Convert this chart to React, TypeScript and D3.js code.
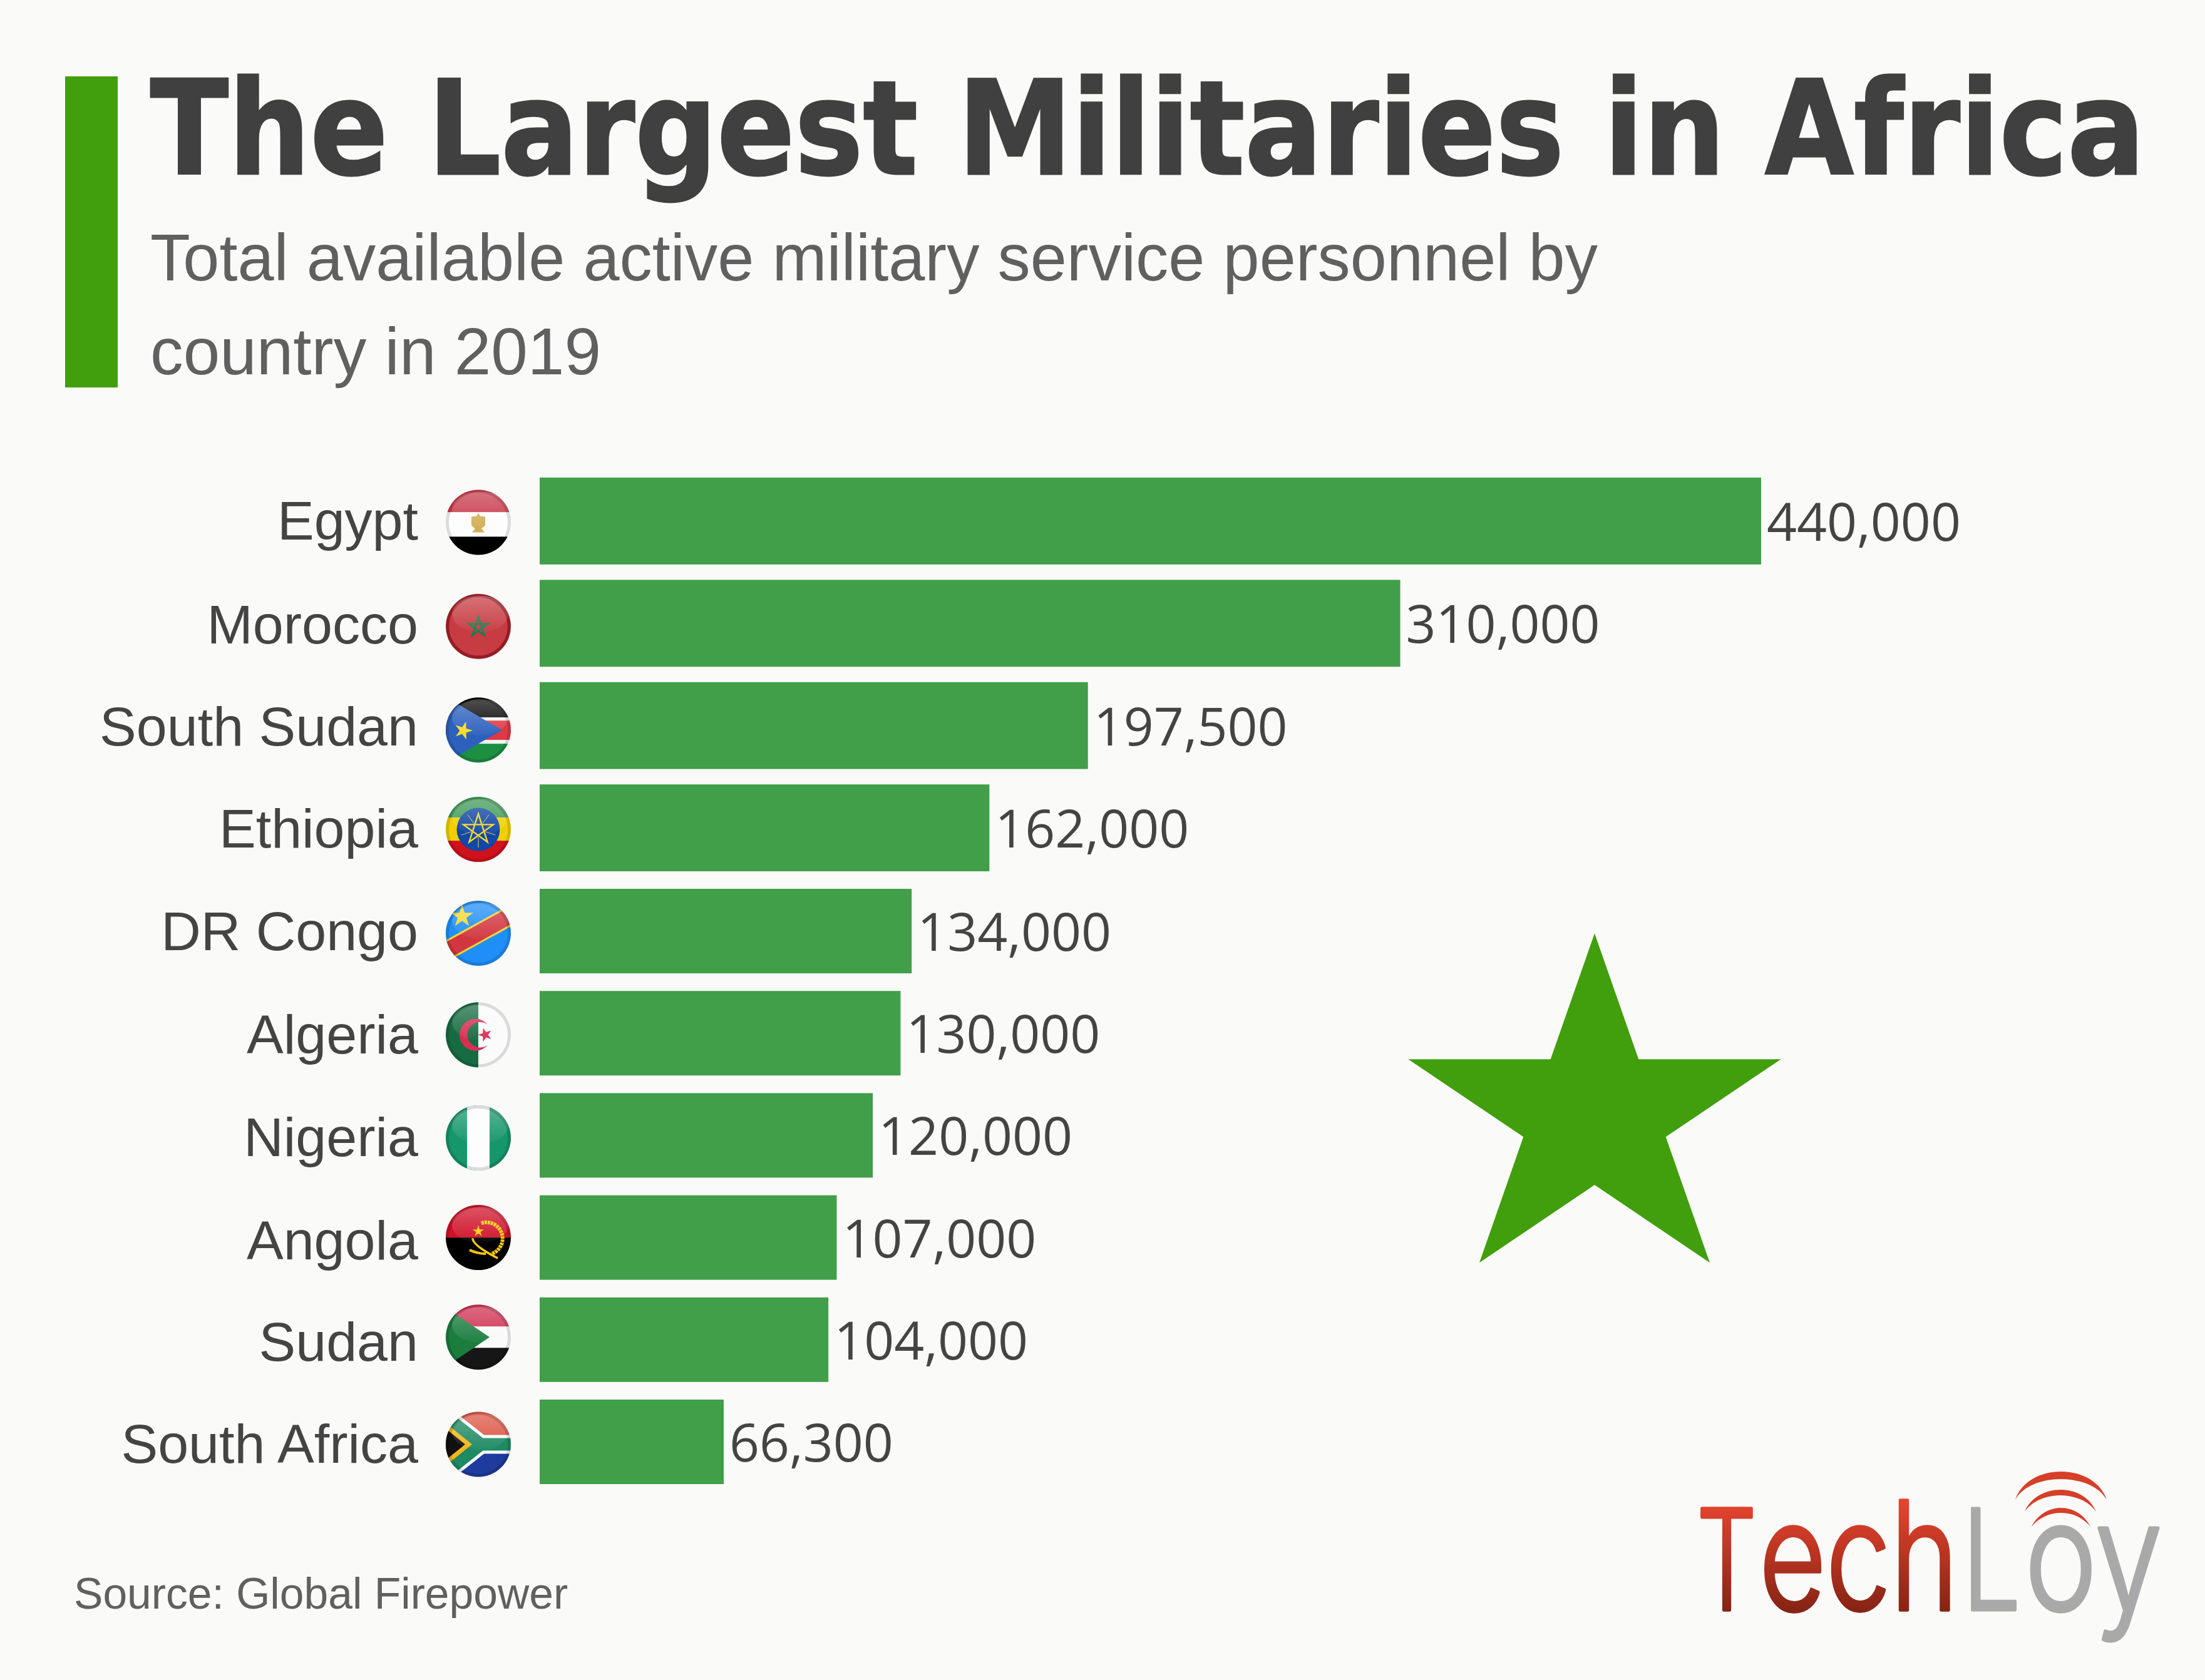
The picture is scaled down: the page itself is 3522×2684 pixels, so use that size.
import React from "react";
import * as d3 from "d3";

// ---------- data ----------
const countries = ["Egypt","Morocco","South Sudan","Ethiopia","DR Congo","Algeria","Nigeria","Angola","Sudan","South Africa"];
const personnel = [440000,310000,197500,162000,134000,130000,120000,107000,104000,66300];
const titleText = "The Largest Militaries in Africa";
const subtitleLines = ["Total available active military service personnel by","country in 2019"];
const sourceText = "Source: Global Firepower";

// ---------- layout ----------
const W = 3522, H = 2684;
const BG = "#fafaf8", BAR = "#409f48", ACCENT = "#419e0c";
const HELV = "'Liberation Sans', Arial, sans-serif";
const x = d3.scaleLinear().domain([0, 440000]).range([862, 2813]);
const yTop = d3.scaleBand<string>().domain(countries.slice(0, 4)).range([763, 1392]).paddingInner(0.1507);
const yBot = d3.scaleBand<string>().domain(countries.slice(4)).range([1420, 2371]).paddingInner(0.1728);
const yOf = (c: string) => (yTop(c) !== undefined ? yTop(c)! : yBot(c)!);
const hOf = (c: string) => (yTop(c) !== undefined ? yTop.bandwidth() : yBot.bandwidth());
const flagNudge = [2, 5, 7, 2.5, 3.5, 2.5, 4, 0, -4, 4];
const labelNudge = [30, 32, 31.5, 31.5, 31, 32.5, 33.5, 34.5, 34, 33.5];
const subtitleWidths = [2312, 720];
const fmt = d3.format(",");

const starPath = (rx: number, ry: number = rx, inner = 0.382, cx = 0, cy = 0, rot = 0) => {
  const pts = d3.range(10).map((i) => {
    const a = -Math.PI / 2 + rot + (i * Math.PI) / 5;
    const k = i % 2 ? inner : 1;
    return [cx + rx * k * Math.cos(a), cy + ry * k * Math.sin(a)] as [number, number];
  });
  return d3.line()(pts)! + "Z";
};
const pentagram = (R: number, cx = 0, cy = 0) => {
  const pts = [0, 2, 4, 1, 3].map((i) => {
    const a = -Math.PI / 2 + (i * 2 * Math.PI) / 5;
    return [cx + R * Math.cos(a), cy + R * Math.sin(a)] as [number, number];
  });
  return d3.line()(pts)! + "Z";
};
const band = (y0: number, y1: number, fill: string) => <rect x={-60} y={y0} width={120} height={y1 - y0} fill={fill} />;

const flagArt: Record<string, () => React.ReactNode> = {
  Egypt: () => (<g>
    {band(-60, -16, "#c93a4b")}{band(-16, 23, "#fdfdfd")}{band(23, 60, "#000")}
    <path d="M0-15 L3-10 L11-9 L11 5 L5 10 L10 16 L-10 16 L-5 10 L-11 5 L-11-9 L-3-10Z" fill="#d3ae58" />
  </g>),
  Morocco: () => (<g>
    <rect x={-60} y={-60} width={120} height={120} fill="#c73c42" />
    <path d={pentagram(16, 0, 1)} fill="none" stroke="#1f7a4c" strokeWidth={3} />
    <circle r={49} fill="none" stroke="#a8232b" strokeWidth={5} />
  </g>),
  "South Sudan": () => (<g>
    {band(-60, -20, "#0a0a0a")}{band(-20, -15, "#f4f4f4")}{band(-15, 16, "#de3a44")}{band(16, 22, "#f4f4f4")}{band(22, 60, "#1c8f43")}
    <path d="M38 0 L-65 -60 L-65 60Z" fill="#2d60bd" />
    <path d={starPath(15, 15, 0.382, -24, 1, 0.3)} fill="#fbdc25" />
  </g>),
  Ethiopia: () => (<g>
    {band(-60, -19, "#3f9a57")}{band(-19, 18, "#f2cf02")}{band(18, 60, "#d0121c")}
    <circle r={34.5} fill="#1147a6" />
    <path d={pentagram(25)} fill="none" stroke="#f5d52a" strokeWidth={2.4} />
    {d3.range(5).map((i) => { const a = Math.PI / 2 + (i * 2 * Math.PI) / 5; return <line key={i} x1={12 * Math.cos(a)} y1={12 * Math.sin(a)} x2={29 * Math.cos(a)} y2={29 * Math.sin(a)} stroke="#e8cf40" strokeWidth={1} />; })}
  </g>),
  "DR Congo": () => (<g>
    <rect x={-60} y={-60} width={120} height={120} fill="#1f8ef7" />
    <g transform="rotate(-29)">
      <rect x={-80} y={-15.5} width={160} height={31} fill="#f7d32e" />
      <rect x={-80} y={-12.5} width={160} height={25} fill="#d23640" />
    </g>
    <path d={starPath(19, 19, 0.382, -26, -27)} fill="#f7d92e" />
  </g>),
  Algeria: () => (<g>
    <rect x={-60} y={-60} width={60} height={120} fill="#176b42" />
    <rect x={0} y={-60} width={60} height={120} fill="#fbfbfb" />
    <path d="M15-16.4 A25.5 25.5 0 1 0 15 16.4 A20.3 20.3 0 1 1 15-16.4Z" fill="#d62f54" />
    <path d={starPath(11.5, 11.5, 0.4, 11, 0, -Math.PI / 2)} fill="#d62f54" />
  </g>),
  Nigeria: () => (<g>
    <rect x={-60} y={-60} width={120} height={120} fill="#16966b" />
    <rect x={-18} y={-60} width={36} height={120} fill="#fdfdfd" />
  </g>),
  Angola: () => (<g>
    {band(-60, 0, "#cf1027")}{band(0, 60, "#000")}
    <path d="M5 -23 A24 24 0 0 1 21 26" fill="none" stroke="#f9c908" strokeWidth={6} strokeDasharray="4 1" />
    <path d={starPath(9.5, 9.5, 0.382, 0, -10)} fill="#f9c908" />
    <path d="M-9 1 Q-10 12 31 33" fill="none" stroke="#f9c908" strokeWidth={3.5} />
    <path d="M-14 20 Q0 26 12 26" fill="none" stroke="#f9c908" strokeWidth={4} />
  </g>),
  Sudan: () => (<g>
    {band(-60, -17, "#cf2f50")}{band(-17, 17, "#fafafa")}{band(17, 60, "#161616")}
    <path d="M18 0 L-62 -54 L-62 54Z" fill="#1a7d3e" />
  </g>),
  "South Africa": () => (<g>
    {band(-60, 0, "#dc5342")}{band(0, 60, "#1e3b9e")}
    <path d="M-62 -52 L4 0 L62 0 M-62 52 L4 0" fill="none" stroke="#fdfdfd" strokeWidth={30} />
    <path d="M-62 -52 L4 0 L62 0 M-62 52 L4 0" fill="none" stroke="#1f8a63" strokeWidth={20} />
    <path d="M-10 0 L-62 -42 L-62 42Z" fill="#f6b61c" />
    <path d="M-21 0 L-62 -33 L-62 33Z" fill="#111" />
  </g>),
};

const Flag = ({ name, cx, cy }: { name: string; cx: number; cy: number }) => (
  <g transform={`translate(${cx},${cy})`}>
    <g clipPath="url(#flagClip)">
      {flagArt[name]()}
      <ellipse cx={3} cy={-20} rx={45} ry={29} fill="url(#gloss)" />
    </g>
    <circle r={49.5} fill="none" stroke="#000" strokeOpacity={0.13} strokeWidth={5} />
  </g>
);

const arcs = [
  { tipL: 3219, tipR: 3365, tipY: 2396, top: 2351, under: 2363 },
  { tipL: 3234, tipR: 3348, tipY: 2415, top: 2380, under: 2389 },
  { tipL: 3245, tipR: 3339, tipY: 2439, top: 2409, under: 2417 },
];
const arcPath = (a: typeof arcs[number]) => {
  const p = d3.path();
  const ctrl = (v: number) => v - (a.tipY - v) / 3;
  p.moveTo(a.tipL, a.tipY);
  p.bezierCurveTo(a.tipL + 20, ctrl(a.top), a.tipR - 20, ctrl(a.top), a.tipR, a.tipY);
  p.bezierCurveTo(a.tipR - 24, ctrl(a.under), a.tipL + 24, ctrl(a.under), a.tipL, a.tipY);
  p.closePath();
  return p.toString();
};

const LogoWord = ({ t, px, sx, size, len, fill, sw }: { t: string; px: number; sx: number; size: number; len: number; fill: string; sw: number }) => (
  <g transform={`translate(${px},2572) scale(${sx},1)`}>
    <text x={0} y={0} fontSize={size} textLength={len / sx} lengthAdjust="spacingAndGlyphs" fill={fill} stroke={fill} strokeWidth={sw}>{t}</text>
  </g>
);

export default function App() {
  return (
    <svg width={W} height={H} viewBox={`0 0 ${W} ${H}`} style={{ position: "absolute", left: 0, top: 0, display: "block" }}>
      <defs>
        <clipPath id="flagClip"><circle r={52} /></clipPath>
        <linearGradient id="gloss" x1="0" y1="0" x2="0" y2="1">
          <stop offset="0" stopColor="#fff" stopOpacity={0.28} />
          <stop offset="1" stopColor="#fff" stopOpacity={0.03} />
        </linearGradient>
        <linearGradient id="techGrad" gradientUnits="userSpaceOnUse" x1="0" y1="-172" x2="0" y2="0">
          <stop offset="0" stopColor="#e6442f" />
          <stop offset="1" stopColor="#872414" />
        </linearGradient>
      </defs>
      <rect width={W} height={H} fill={BG} />

      <rect x={104} y={122} width={84} height={497} fill={ACCENT} />
      <g transform="translate(240,277.5) scale(1,1.1626)">
        <text x={0} y={0} fontFamily="'DejaVu Sans'" fontWeight={700} fontSize={178.9} fill="#404040" stroke="#404040" strokeWidth={2.5} textLength={3186} lengthAdjust="spacingAndGlyphs">{titleText}</text>
      </g>
      {subtitleLines.map((t, i) => (
        <text key={t} x={240} y={447.5 + i * 150} fontFamily={HELV} fontSize={105} fill="#606060" textLength={subtitleWidths[i]} lengthAdjust="spacingAndGlyphs">{t}</text>
      ))}

      {countries.map((c, i) => {
        const top = yOf(c), h = hOf(c), mid = top + h / 2;
        return (
          <g key={c}>
            <rect x={x(0)} y={top} width={x(personnel[i]) - x(0)} height={h} fill={BAR} />
            <text x={668} y={mid + labelNudge[i]} textAnchor="end" fontFamily={HELV} fontSize={88} fill="#444">{c}</text>
            <Flag name={c} cx={764} cy={mid + flagNudge[i]} />
            <text x={x(personnel[i]) + 9} y={mid + 31.5} fontFamily="'Open Sans'" fontSize={84} fill="#444">{fmt(personnel[i])}</text>
          </g>
        );
      })}

      <path d={starPath(313, 290.8, 0.382, 2547, 1782)} fill={ACCENT} />

      <text x={118} y={2570} fontFamily={HELV} fontSize={69.6} fill="#606060">{sourceText}</text>

      {/* logo */}
      <g fontFamily="Inter" fontWeight={300} strokeLinejoin="round">
        <LogoWord t="T" px={2710} sx={0.7} size={223} len={96} fill="url(#techGrad)" sw={5.5} />
        <LogoWord t="ech" px={2810} sx={0.75} size={240} len={318} fill="url(#techGrad)" sw={5.5} />
        <LogoWord t="L" px={3134} sx={0.8} size={223} len={94} fill="#a9a9a9" sw={5} />
        <LogoWord t="oy" px={3234} sx={0.8} size={240} len={220} fill="#a9a9a9" sw={5} />
      </g>
      {arcs.map((a, i) => <path key={i} d={arcPath(a)} fill="#d63f28" />)}
    </svg>
  );
}
